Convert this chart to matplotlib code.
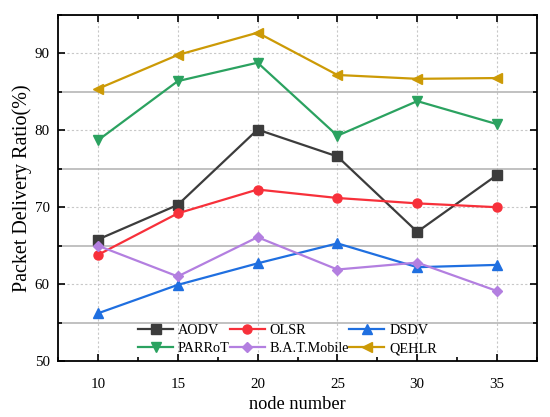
import matplotlib
matplotlib.use("Agg")
import matplotlib.pyplot as plt
from matplotlib.ticker import MultipleLocator

nodes = [10, 15, 20, 25, 30, 35]
aodv = [65.8, 70.3, 80.1, 76.6, 66.8, 74.2]
olsr = [63.8, 69.2, 72.3, 71.2, 70.5, 70.0]
dsdv = [56.2, 59.9, 62.7, 65.3, 62.2, 62.5]
parrot = [78.7, 86.4, 88.8, 79.3, 83.8, 80.8]
bat = [65.0, 61.0, 66.1, 61.9, 62.8, 59.1]
qehlr = [85.4, 89.8, 92.7, 87.2, 86.7, 86.8]

series = [
    ("AODV", aodv, "#3c3c3c", "s"),
    ("OLSR", olsr, "#f7303a", "o"),
    ("DSDV", dsdv, "#1f6fe0", "^"),
    ("PARRoT", parrot, "#2ba260", "v"),
    ("B.A.T.Mobile", bat, "#b37fe0", "D"),
    ("QEHLR", qehlr, "#cc9a06", "<"),
]

plt.rcParams['font.family'] = ['Liberation Serif', 'DejaVu Serif']
W, H = 550, 417
fig = plt.figure(figsize=(W/100, H/100), dpi=100)
L, R, T, B = 58, 537, 15, 361
ax = fig.add_axes([L/W, 1-B/H, (R-L)/W, (B-T)/H])

handles = []
for name, vals, col, mk in series:
    ms = 5.5 if mk == "D" else 6.5
    h, = ax.plot(nodes, vals, color=col, marker=mk, markersize=ms, linewidth=1.6, label=name)
    handles.append(h)

ax.set_xlim(7.5, 37.5)
ax.set_ylim(50, 95)
ax.xaxis.set_major_locator(MultipleLocator(5))
ax.xaxis.set_minor_locator(MultipleLocator(2.5))
ax.yaxis.set_major_locator(MultipleLocator(10))
ax.yaxis.set_minor_locator(MultipleLocator(5))
ax.grid(True, which='major', linestyle=(0, (2, 2)), color='#c8c8c8', linewidth=0.8)
ax.grid(True, which='minor', axis='y', linestyle='-', color='#b0b0b0', linewidth=1.1)
ax.set_axisbelow(True)
ax.tick_params(which='both', direction='in', top=True, right=True, labelsize=10.8, width=1.2)
ax.tick_params(which='major', length=5)
ax.tick_params(which='minor', length=3)
ax.tick_params(axis='x', pad=12)
ax.tick_params(axis='y', pad=6)
for s in ax.spines.values():
    s.set_linewidth(1.3)
ax.set_xlabel("node number", fontsize=13.2, labelpad=4)
ax.set_ylabel("Packet Delivery Ratio(%)", fontsize=14.5, labelpad=2)

order = [0, 3, 1, 4, 2, 5]
ax.legend([handles[i] for i in order], [series[i][0] for i in order],
          loc='lower left', bbox_to_anchor=((138-L)/(R-L), 0.017), ncol=3, frameon=False,
          fontsize=10.3, handlelength=2.45, handletextpad=0.35, columnspacing=0.0,
          labelspacing=0.33, borderaxespad=0.0, borderpad=0.0)

fig.savefig("out.png", dpi=100)
